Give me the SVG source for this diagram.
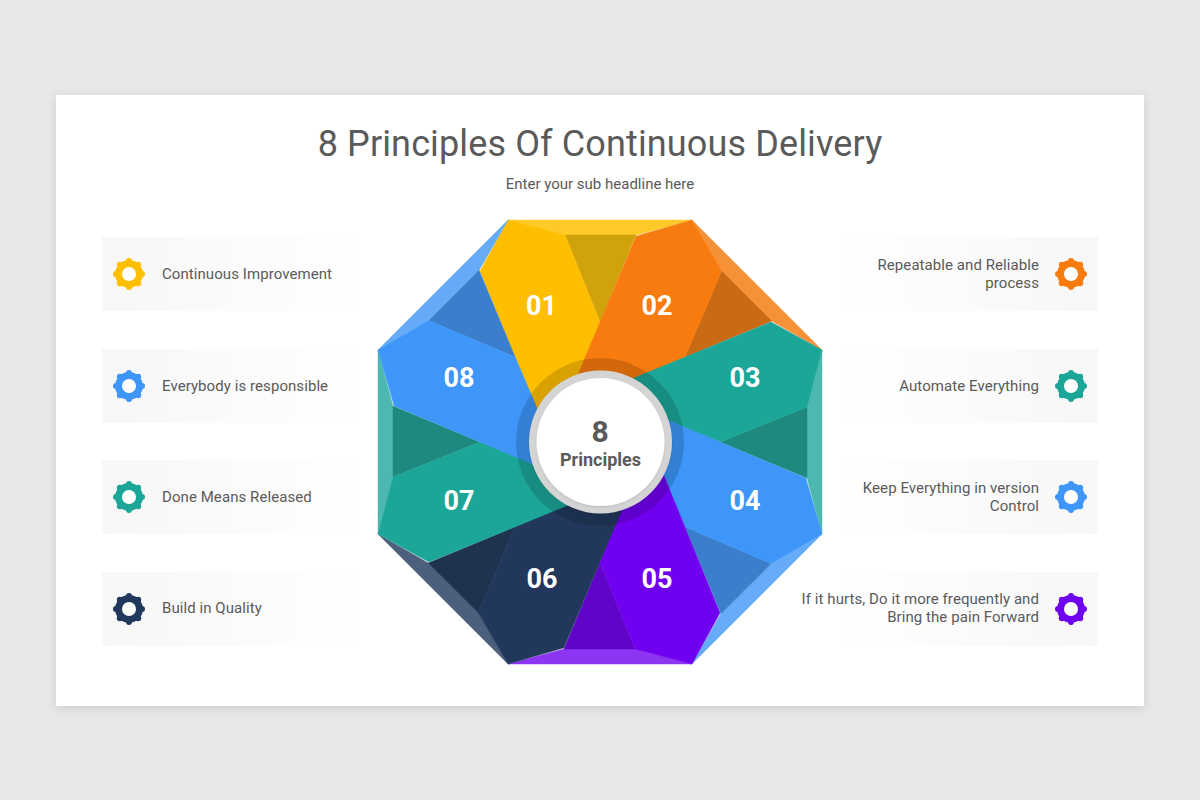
<svg xmlns="http://www.w3.org/2000/svg" xmlns:xlink="http://www.w3.org/1999/xlink" width="1200" height="800" viewBox="0 0 1200 800">
<style>
text{font-family:Roboto,"Liberation Sans",sans-serif;fill:#5A5A5A}
.title{font-size:36px;text-anchor:middle;letter-spacing:0.13px}
.sub{font-size:15px;text-anchor:middle}
.lbl{font-size:15px;letter-spacing:0.07px}
.r{text-anchor:end}
.num{font-size:27px;font-weight:700;fill:#fff;text-anchor:middle}
.s{fill:var(--s);stroke:var(--s);stroke-width:.5}
.t{fill:var(--t);stroke:var(--t);stroke-width:.5}
.b{fill:var(--b);stroke:var(--b);stroke-width:.5}
.c1{--b:#FFBE00;--t:#D0A20C;--s:#FFC928}
.c2{--b:#F77B0E;--t:#CB6A14;--s:#F79138}
.c3{--b:#1CA698;--t:#1E8A7F;--s:#4DB8AF}
.c4{--b:#3D96F8;--t:#3B7ECB;--s:#65ABF8}
.c5{--b:#7000F0;--t:#5F04C8;--s:#8C36F2}
.c6{--b:#21385C;--t:#1F3350;--s:#4C5F7C}
</style>
<defs>
<filter id="card" x="-5%" y="-5%" width="110%" height="110%"><feDropShadow dx="0" dy="2" stdDeviation="5" flood-color="#000" flood-opacity="0.12"/></filter>
<filter id="soft" x="-20%" y="-20%" width="140%" height="140%"><feDropShadow dx="0" dy="1" stdDeviation="1.2" flood-color="#000" flood-opacity="0.12"/></filter>
<linearGradient id="bandL" x1="0" x2="1" y1="0" y2="0"><stop offset="0" stop-color="#F7F7F7"/><stop offset="1" stop-color="#FFFFFF"/></linearGradient>
<linearGradient id="bandR" x1="1" x2="0" y1="0" y2="0"><stop offset="0" stop-color="#F7F7F7"/><stop offset="1" stop-color="#FFFFFF"/></linearGradient>
<g id="petal">
<polygon class="s" points="508,220 692,220 636,235 565,235"/>
<polygon class="t" points="565,235 636,235 600,322"/>
<polygon class="b" points="508,220 565,235 600,322 572,392 600,442 545,430 480,271"/>
</g>
<g id="gear">
<circle r="13.9"/>
<circle cx="0" cy="-13" r="3"/><circle cx="9.2" cy="-9.2" r="3"/><circle cx="13" cy="0" r="3"/><circle cx="9.2" cy="9.2" r="3"/>
<circle cx="0" cy="13" r="3"/><circle cx="-9.2" cy="9.2" r="3"/><circle cx="-13" cy="0" r="3"/><circle cx="-9.2" cy="-9.2" r="3"/>
<circle r="7" fill="#fff"/>
</g>
</defs>
<rect width="1200" height="800" fill="#E9E7E8"/>
<rect x="56" y="95" width="1088" height="611" fill="#fff" filter="url(#card)"/>
<text class="title" x="600" y="156">8 Principles Of Continuous Delivery</text>
<text class="sub" x="600" y="189">Enter your sub headline here</text>

<g id="item-01"><rect x="102" y="237" width="258" height="74" fill="url(#bandL)"/><use xlink:href="#gear" href="#gear" x="129" y="274" fill="#FFBE00"/><text class="lbl" x="162" y="279">Continuous Improvement</text></g>
<g id="item-08"><rect x="102" y="349" width="258" height="74" fill="url(#bandL)"/><use xlink:href="#gear" href="#gear" x="129" y="386" fill="#3D96F8"/><text class="lbl" x="162" y="391">Everybody is responsible</text></g>
<g id="item-07"><rect x="102" y="460" width="258" height="74" fill="url(#bandL)"/><use xlink:href="#gear" href="#gear" x="129" y="497" fill="#1CA698"/><text class="lbl" x="162" y="502">Done Means Released</text></g>
<g id="item-06"><rect x="102" y="572" width="258" height="74" fill="url(#bandL)"/><use xlink:href="#gear" href="#gear" x="129" y="609" fill="#21385C"/><text class="lbl" x="162" y="613">Build in Quality</text></g>

<g id="item-02"><rect x="840" y="237" width="258" height="74" fill="url(#bandR)"/><use xlink:href="#gear" href="#gear" x="1071" y="274" fill="#F77B0E"/><text class="lbl r" x="1039" y="270">Repeatable and Reliable</text><text class="lbl r" x="1039" y="288">process</text></g>
<g id="item-03"><rect x="840" y="349" width="258" height="74" fill="url(#bandR)"/><use xlink:href="#gear" href="#gear" x="1071" y="386" fill="#1CA698"/><text class="lbl r" x="1039" y="391">Automate Everything</text></g>
<g id="item-04"><rect x="840" y="460" width="258" height="74" fill="url(#bandR)"/><use xlink:href="#gear" href="#gear" x="1071" y="497" fill="#3D96F8"/><text class="lbl r" x="1039" y="493">Keep Everything in version</text><text class="lbl r" x="1039" y="511">Control</text></g>
<g id="item-05"><rect x="840" y="572" width="258" height="74" fill="url(#bandR)"/><use xlink:href="#gear" href="#gear" x="1071" y="609" fill="#7000F0"/><text class="lbl r" x="1039" y="604">If it hurts, Do it more frequently and</text><text class="lbl r" x="1039" y="622">Bring the pain Forward</text></g>

<g id="petal-01"><use xlink:href="#petal" href="#petal" class="c1"/><text class="num" x="541.5" y="314.5">01</text></g>
<g id="petal-02"><use xlink:href="#petal" href="#petal" class="c2" transform="rotate(45 600 442)"/><text class="num" x="657" y="314.5">02</text></g>
<g id="petal-03"><use xlink:href="#petal" href="#petal" class="c3" transform="rotate(90 600 442)"/><text class="num" x="745" y="386.5">03</text></g>
<g id="petal-04"><use xlink:href="#petal" href="#petal" class="c4" transform="rotate(135 600 442)"/><text class="num" x="745" y="509.5">04</text></g>
<g id="petal-05"><use xlink:href="#petal" href="#petal" class="c5" transform="rotate(180 600 442)"/><text class="num" x="657" y="587.5">05</text></g>
<g id="petal-06"><use xlink:href="#petal" href="#petal" class="c6" transform="rotate(225 600 442)"/><text class="num" x="542" y="587.5">06</text></g>
<g id="petal-07"><use xlink:href="#petal" href="#petal" class="c3" transform="rotate(270 600 442)"/><text class="num" x="459" y="509.5">07</text></g>
<g id="petal-08"><use xlink:href="#petal" href="#petal" class="c4" transform="rotate(315 600 442)"/><text class="num" x="459" y="386.5">08</text></g>

<g id="hub">
<circle cx="600" cy="442" r="84" fill="#000" fill-opacity="0.15"/>
<circle cx="600.5" cy="442" r="71.5" fill="#D4D4D4" filter="url(#soft)"/>
<circle cx="600.5" cy="442" r="64" fill="#fff" filter="url(#soft)"/>
<text x="600" y="442" font-size="30" font-weight="700" text-anchor="middle">8</text>
<text x="600.5" y="466" font-size="18" font-weight="700" text-anchor="middle">Principles</text>
</g>
</svg>
